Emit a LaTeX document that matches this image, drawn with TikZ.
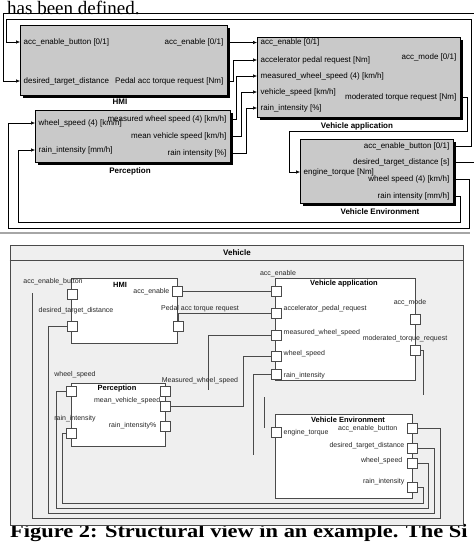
\documentclass[tikz,border=0pt]{standalone}
\usepackage{fontspec}
\setmainfont{Liberation Serif}
\setsansfont{Liberation Sans}
\usetikzlibrary{arrows.meta,calc,shadows}
\definecolor{tgray}{HTML}{C9C9C9}
\definecolor{bline}{HTML}{4A4A4A}
\definecolor{bbg}{HTML}{EFEFEF}
\begin{document}
\begin{tikzpicture}[x=1pt,y=-1pt,
 tblk/.style={draw=black, fill=tgray, line width=0.7pt, inner sep=0pt,
   drop shadow={shadow xshift=3pt, shadow yshift=-3pt, fill=black, opacity=1}},
 tl/.style={font=\sffamily\fontsize{8}{8}\selectfont, inner sep=0.5pt},
 tt/.style={font=\sffamily\bfseries\fontsize{8}{8}\selectfont, inner sep=0.5pt},
 arr/.style={-{Latex[length=4pt,width=3.6pt]}, line width=0.6pt},
 bblk/.style={draw=bline, fill=white, line width=0.6pt, inner sep=0pt},
 bport/.style={draw=bline, fill=white, line width=0.5pt, minimum size=10pt, inner sep=0pt},
 bl/.style={font=\sffamily\fontsize{7}{7}\selectfont, inner sep=0.5pt, text=black!85},
 bt/.style={font=\sffamily\bfseries\fontsize{7.5}{7.5}\selectfont, inner sep=0.5pt},
 bw/.style={draw=bline, line width=0.6pt},
]
\clip (0,0) rectangle (474,542);
\useasboundingbox (0,0) rectangle (474,542);

% page text
\node[anchor=base west, inner sep=0, font=\fontsize{19}{19}\selectfont] (ptop) at (7,14) {has been defined.};
\node[anchor=base west, inner sep=0, font=\bfseries\fontsize{19}{19}\selectfont] (pbot) at (10,537.5) {\scalebox{1.18}[1]{Figure 2: Structural view in an example. The Si}};

% ================= TOP DIAGRAM =================
\node[tblk, minimum width=207pt, minimum height=70pt] (hmi) at (123.5,60) {};
\node[tblk, minimum width=195pt, minimum height=52pt] (per) at (132.5,136) {};
\node[tblk, minimum width=203pt, minimum height=80pt] (va) at (358.5,77) {};
\node[tblk, minimum width=153pt, minimum height=64pt] (ve) at (376.5,171) {};

\node[tt] (hmiT) at (120,102) {HMI};
\node[tt] (perT) at (130,171) {Perception};
\node[tt] (vaT) at (357,126) {Vehicle application};
\node[tt] (veT) at (380,212) {Vehicle Environment};

% ports (top)
\coordinate (hABi) at (20,42);
\coordinate (hDTi) at (20,81);
\coordinate (hAEo) at (227,42.5);
\coordinate (hPTo) at (227,81);
\coordinate (pWSi) at (35,123);
\coordinate (pRIi) at (35,150);
\coordinate (pMWo) at (230,119);
\coordinate (pMVo) at (230,136);
\coordinate (pRIo) at (230,153);
\coordinate (vAEi) at (257,42.5);
\coordinate (vAPi) at (257,60);
\coordinate (vMWi) at (257,76);
\coordinate (vVSi) at (257,92);
\coordinate (vRIi) at (257,108);
\coordinate (vAMo) at (460,57);
\coordinate (vMTo) at (460,97);
\coordinate (eETi) at (300,172);
\coordinate (eABo) at (453,146);
\coordinate (eDTo) at (453,162);
\coordinate (eWSo) at (453,179);
\coordinate (eRIo) at (453,196);

% labels (top)
\node[tl, anchor=west] (t1) at ($(hABi)+(3,0)$) {acc\_enable\_button [0/1]};
\node[tl, anchor=west] (t2) at ($(hDTi)+(3,0)$) {desired\_target\_distance};
\node[tl, anchor=east] (t3) at ($(hAEo)+(-3,0)$) {acc\_enable [0/1]};
\node[tl, anchor=east] (t4) at ($(hPTo)+(-3,0)$) {Pedal acc torque request [Nm]};
\node[tl, anchor=west] (t5) at ($(pWSi)+(3,0)$) {wheel\_speed (4) [km/h]};
\node[tl, anchor=west] (t6) at ($(pRIi)+(3,0)$) {rain\_intensity [mm/h]};
\node[tl, anchor=east] (t7) at ($(pMWo)+(-3,0)$) {measured wheel speed (4) [km/h]};
\node[tl, anchor=east] (t8) at ($(pMVo)+(-3,0)$) {mean vehicle speed [km/h]};
\node[tl, anchor=east] (t9) at ($(pRIo)+(-3,0)$) {rain intensity [\%]};
\node[tl, anchor=west] (t10) at ($(vAEi)+(3,0)$) {acc\_enable [0/1]};
\node[tl, anchor=west] (t11) at ($(vAPi)+(3,0)$) {accelerator pedal request [Nm]};
\node[tl, anchor=west] (t12) at ($(vMWi)+(3,0)$) {measured\_wheel\_speed (4) [km/h]};
\node[tl, anchor=west] (t13) at ($(vVSi)+(3,0)$) {vehicle\_speed [km/h]};
\node[tl, anchor=west] (t14) at ($(vRIi)+(3,0)$) {rain\_intensity [\%]};
\node[tl, anchor=east] (t15) at ($(vAMo)+(-3,0)$) {acc\_mode [0/1]};
\node[tl, anchor=east] (t16) at ($(vMTo)+(-3,0)$) {moderated torque request [Nm]};
\node[tl, anchor=west] (t17) at ($(eETi)+(3,0)$) {engine\_torque [Nm]};
\node[tl, anchor=east] (t18) at ($(eABo)+(-3,0)$) {acc\_enable\_button [0/1]};
\node[tl, anchor=east] (t19) at ($(eDTo)+(-3,0)$) {desired\_target\_distance [s]};
\node[tl, anchor=east] (t20) at ($(eWSo)+(-3,0)$) {wheel speed (4) [km/h]};
\node[tl, anchor=east] (t21) at ($(eRIo)+(-3,0)$) {rain intensity [mm/h]};

% bend points
\coordinate (mtb) at (289,131);
\coordinate (abt) at (6,19);
\coordinate (dtt) at (3,13);
\coordinate (wsb) at (8,228);
\coordinate (rib) at (18,222);

% connectors (top)
\draw[arr] (hAEo) -- (vAEi);
\draw[arr] (hPTo) -- ++(6,0) |- (vAPi);
\draw[arr] (pMWo) -- ++(6,0) |- (vMWi);
\draw[arr] (pMVo) -- ++(11,0) |- (vVSi);
\draw[arr] (pRIo) -- ++(16,0) |- (vRIi);
\draw[arr] (vMTo) -- ++(7,0) |- (mtb) |- (eETi);
\draw[arr] (eABo) -- ++(18,0) |- (abt) |- (hABi);
\draw[arr] (eDTo) -- ++(21,0) |- (dtt) |- (hDTi);
\draw[arr] (eWSo) -- ++(16,0) |- (wsb) |- (pWSi);
\draw[arr] (eRIo) -- ++(7,0) |- (rib) |- (pRIi);

% separator
\draw[draw=black!35, line width=1.2pt] (0,233) -- (470,233);

% ================= BOTTOM DIAGRAM =================
\node[draw=bline, fill=bbg, minimum width=453pt, minimum height=280pt, inner sep=0pt, line width=0.7pt] (veh) at (236.5,385) {};
\draw[bw] (veh.west |- 0,260) -- (veh.east |- 0,260);
\node[bt, font=\sffamily\bfseries\fontsize{8}{8}\selectfont] (vehT) at (237,252.5) {Vehicle};

\node[bblk, minimum width=106pt, minimum height=65pt] (bhmi) at (124,310.5) {};
\node[bblk, minimum width=140pt, minimum height=102pt] (bva) at (345,329) {};
\node[bblk, minimum width=94pt, minimum height=63pt] (bper) at (118,414.5) {};
\node[bblk, minimum width=137pt, minimum height=84pt] (bve) at (343.5,456) {};

\node[bt] (bhmiT) at (120,285) {HMI};
\node[bt] (bvaT) at (344,284) {Vehicle application};
\node[bt] (bperT) at (117,389) {Perception};
\node[bt] (bveT) at (348,420) {Vehicle Environment};

% bottom connectors
\coordinate (mwEnd) at (208,390);
\coordinate (wsB) at (243,406);
\coordinate (riEnd) at (253,455);
\coordinate (mtEnd) at (423,395);
\coordinate (etA) at (264,397);
\coordinate (etB) at (264,428);
\coordinate (l1) at (423,503);
\coordinate (l2) at (428,508);
\coordinate (l3) at (434,513);
\coordinate (l4) at (440,518);
\coordinate (abEnd) at (32,293);

% ports (bottom)
\node[bport] (bhAB) at (72,294) {};
\node[bport] (bhDT) at (72,326) {};
\node[bport] (bhAE) at (177,291) {};
\node[bport] (bhPT) at (178,326) {};
\node[bport] (bvAE) at (276,291) {};
\node[bport] (bvAP) at (276,313) {};
\node[bport] (bvMW) at (276,335) {};
\node[bport] (bvWS) at (276,356) {};
\node[bport] (bvRI) at (276,374) {};
\node[bport] (bvAM) at (415,319) {};
\node[bport] (bvMT) at (415,350) {};
\node[bport] (bpWS) at (71,391) {};
\node[bport] (bpRI) at (71,433) {};
\node[bport] (bpMW) at (165,391) {};
\node[bport] (bpMV) at (165,406) {};
\node[bport] (bpRI2) at (165,426) {};
\node[bport] (beET) at (276,432) {};
\node[bport] (beAB) at (412,428) {};
\node[bport] (beDT) at (412,448) {};
\node[bport] (beWS) at (412,463) {};
\node[bport] (beRI) at (412,487) {};

\draw[bw] (bhAE.east) -- (bvAE.west);
\draw[bw] (bhPT.north) |- (bvAP.west);
\draw[bw] (bvMW.west) -| (mwEnd);
\draw[bw] (bpMV.east) -- (wsB) |- (bvWS.west);
\draw[bw] (bvRI.west) -| (riEnd);
\draw[bw] (bvMT.east) -| (mtEnd);
\draw[bw] (etA) -- (etB);
\draw[bw] (beRI.east) -| (l1) -| ($(bpRI.west)+(-3,0)$) -- (bpRI.west);
\draw[bw] (beWS.east) -| (l2) -| ($(bpWS.west)+(-9,0)$) -- (bpWS.west);
\draw[bw] (beDT.east) -| (l3) -| ($(bhDT.west)+(-18,0)$) -- (bhDT.west);
\draw[bw] (beAB.east) -| (l4) -| (abEnd);

% labels (bottom)
\node[bl] (b1) at (53,282) {acc\_enable\_button};
\node[bl] (b2) at (76,311) {desired\_target\_distance};
\node[bl, anchor=east] (b3) at (170,292) {acc\_enable};
\node[bl] (b4) at (200,309) {Pedal acc torque request};
\node[bl] (b5) at (278,274) {acc\_enable};
\node[bl, anchor=west] (b6) at (283,309) {accelerator\_pedal\_request};
\node[bl, anchor=west] (b7) at (283,333) {measured\_wheel\_speed};
\node[bl, anchor=west] (b8) at (283,354) {wheel\_speed};
\node[bl, anchor=west] (b9) at (283,376) {rain\_intensity};
\node[bl] (b10) at (410,303) {acc\_mode};
\node[bl] (b11) at (405,339) {moderated\_torque\_request};
\node[bl] (b12) at (75,375) {wheel\_speed};
\node[bl] (b13) at (75,419) {rain\_intensity};
\node[bl] (b14) at (200,381) {Measured\_wheel\_speed};
\node[bl, anchor=east] (b15) at (161,401) {mean\_vehicle\_speed};
\node[bl, anchor=east] (b16) at (157,426) {rain\_intensity\%};
\node[bl, anchor=west] (b17) at (283,433) {engine\_torque};
\node[bl, anchor=east] (b18) at (398,429) {acc\_enable\_button};
\node[bl, anchor=east] (b19) at (405,446) {desired\_target\_distance};
\node[bl, anchor=east] (b20) at (403,461) {wheel\_speed};
\node[bl, anchor=east] (b21) at (405,482) {rain\_intensity};
\end{tikzpicture}
\end{document}
